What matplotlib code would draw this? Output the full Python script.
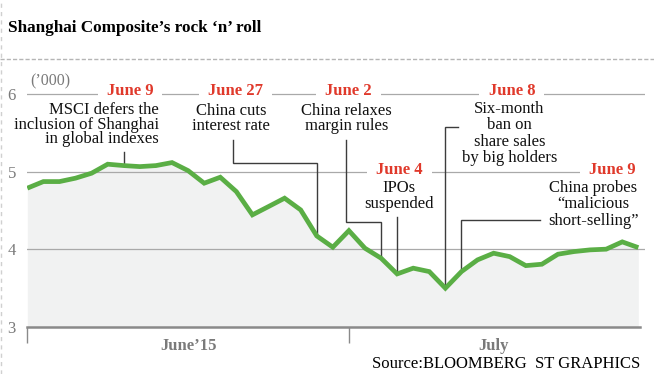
import numpy as np
import matplotlib
matplotlib.use("Agg")
import matplotlib.pyplot as plt
from matplotlib.lines import Line2D

plt.rcParams['font.family'] = ['Liberation Serif', 'DejaVu Serif']

# ---------------- data ----------------
title = "Shanghai Composite\u2019s rock \u2018n\u2019 roll"
unit_label = "(\u2019000)"
source = "Source:BLOOMBERG  ST GRAPHICS"

# Shanghai Composite close, thousands, trading days June 1 - July 24 2015
values = [4.789, 4.874, 4.874, 4.918, 4.982, 5.098, 5.080, 5.067, 5.080, 5.119,
          5.015, 4.853, 4.930, 4.745, 4.445, 4.552, 4.660, 4.509, 4.174, 4.028,
          4.242, 4.015, 3.887, 3.684, 3.758, 3.714, 3.500, 3.714, 3.865, 3.951,
          3.907, 3.791, 3.809, 3.938, 3.972, 3.994, 4.003, 4.097, 4.023]
yticks = [3, 4, 5, 6]
month_ticks = [0, 20]
month_label_pos = [10, 29]
month_labels = ["June\u201915", "July"]

event_dates = ["June 9", "June 27", "June 2", "June 4", "June 8", "June 9"]
event_texts = [["MSCI defers the", "inclusion of Shanghai", "in global indexes"],
               ["China cuts", "interest rate"],
               ["China relaxes", "margin rules"],
               ["IPOs", "suspended"],
               ["Six-month", "ban on", "share sales", "by big holders"],
               ["China probes", "\u201cmalicious", "short-selling\u201d"]]
event_idx = [6, 18, 22, 23, 26, 27]

# ---------------- layout helpers (pixel geometry) ----------------
W, H = 654, 374
AX_L, AX_R, AX_B, AX_T = 27, 645, 327, 74
PX_PER_UNIT = 77.6
X0, X_STEP = 27.3, 16.08


def px2x(px):
    return (px - X0) / X_STEP


def px2y(py):
    return 3.0 + (AX_B - py) / PX_PER_UNIT


RED = '#e0392b'
GREEN = '#5aae45'
GRAY = '#7a7a7a'
GRID = '#a9a9a9'
LEADER = '#3c3c3c'

fig = plt.figure(figsize=(W / 100, H / 100), dpi=100)
fig.patch.set_facecolor('white')
ax = fig.add_axes([AX_L / W, (H - AX_B) / H, (AX_R - AX_L) / W, (AX_B - AX_T) / H])
ax.set_facecolor('none')
ax.set_xlim(px2x(AX_L), px2x(AX_R))
ax.set_ylim(3.0, px2y(AX_T))
for s in ax.spines.values():
    s.set_visible(False)

x = np.arange(len(values))
ax.fill_between(x, values, 3.0, color='#f1f2f2', lw=0, zorder=0.5)
for v in yticks[1:]:
    ax.axhline(v, color=GRID, lw=0.9, zorder=1)
ax.axhline(3.0, xmin=0, xmax=(640 - AX_L) / (AX_R - AX_L), color='#8a8a8a',
           lw=1.8, zorder=1.2, clip_on=False)
ax.plot(x, values, color=GREEN, lw=3.4, zorder=2.5, solid_joinstyle='miter',
        solid_capstyle='butt')

# ticks
ax.set_yticks(yticks)
ax.set_yticklabels([str(t) for t in yticks])
ax.tick_params(axis='y', length=0, pad=8, labelsize=12, labelcolor=GRAY)
ax.set_xticks(month_ticks)
ax.set_xticklabels([])
ax.tick_params(axis='x', which='major', length=11.5, width=1.0, color='#8a8a8a',
               direction='out')
ax.set_xticks(month_label_pos, minor=True)
ax.set_xticklabels(month_labels, minor=True)
ax.tick_params(axis='x', which='minor', length=0, pad=8, labelsize=12,
               labelcolor=GRAY)
for lab in ax.get_xticklabels(minor=True):
    lab.set_fontweight('bold')

# unit label
ax.text(px2x(50), px2y(81), unit_label, ha='center', va='center', color=GRAY,
        fontsize=11.5, clip_on=False)

# red date labels (white box breaks the gridlines)
red_pos = [(130, 95.5), (235.3, 95.5), (348.8, 95.5), (399.2, 174.5),
           (511.8, 95.5), (612.5, 174.5)]
for lab, (cx, by) in zip(event_dates, red_pos):
    ax.text(px2x(cx), px2y(by), lab, ha='center', va='baseline', color=RED,
            fontsize=12, fontweight='bold', zorder=4, clip_on=False,
            bbox=dict(boxstyle='square,pad=0.55', fc='white', ec='none'))

# event description blocks: (x px, first baseline px, line step px, ha)
blocks = [(159, 114.3, 14.5, 'right'), (231, 115, 15, 'center'),
          (346.7, 115, 15, 'center'), (399.2, 191.7, 16, 'center'),
          (509.5, 113.3, 16.2, 'center'), (593.5, 191.7, 16.7, 'center')]
for lines, (bx, by, step, ha) in zip(event_texts, blocks):
    for i, ln in enumerate(lines):
        ax.text(px2x(bx), px2y(by + i * step), ln, ha=ha, va='baseline',
                color='#111111', fontsize=12, zorder=5, clip_on=False)

# leader lines from text to the curve
v = values
i0, i1, i2, i3, i4, i5 = event_idx
leaders = [
    ([i0, i0], [px2y(152), v[i0]]),
    ([px2x(232.5), px2x(232.5), i1, i1], [px2y(140), px2y(163.5), px2y(163.5), v[i1]]),
    ([px2x(346), px2x(346), i2, i2], [px2y(140), px2y(221.7), px2y(221.7), v[i2]]),
    ([i3, i3], [px2y(216.7), v[i3]]),
    ([px2x(458), i4, i4], [px2y(126.7), px2y(126.7), v[i4]]),
    ([px2x(540), i5, i5], [px2y(220), px2y(220), v[i5]]),
]
for xs, ys in leaders:
    ax.plot(xs, ys, color=LEADER, lw=1.0, zorder=2, solid_joinstyle='miter')

# title, separator, source
fig.text(8.3 / W, 1 - 31.7 / H, title, fontsize=12.3, fontweight='bold',
         va='baseline', ha='left', color='black')
fig.add_artist(Line2D([0, 1], [1 - 59.3 / H, 1 - 59.3 / H], transform=fig.transFigure,
                      color='#b5b5b5', lw=1.0, ls=(0, (3, 1.5))))
fig.add_artist(Line2D([1.2 / W, 1.2 / W], [0, 1], transform=fig.transFigure,
                      color='#d0d0d0', lw=1.0, ls=(0, (3, 3))))
fig.text(640 / W, 1 - 368 / H, source, fontsize=12, ha='right', va='baseline',
         color='black')

fig.savefig('out.png', dpi=100, facecolor='white')
